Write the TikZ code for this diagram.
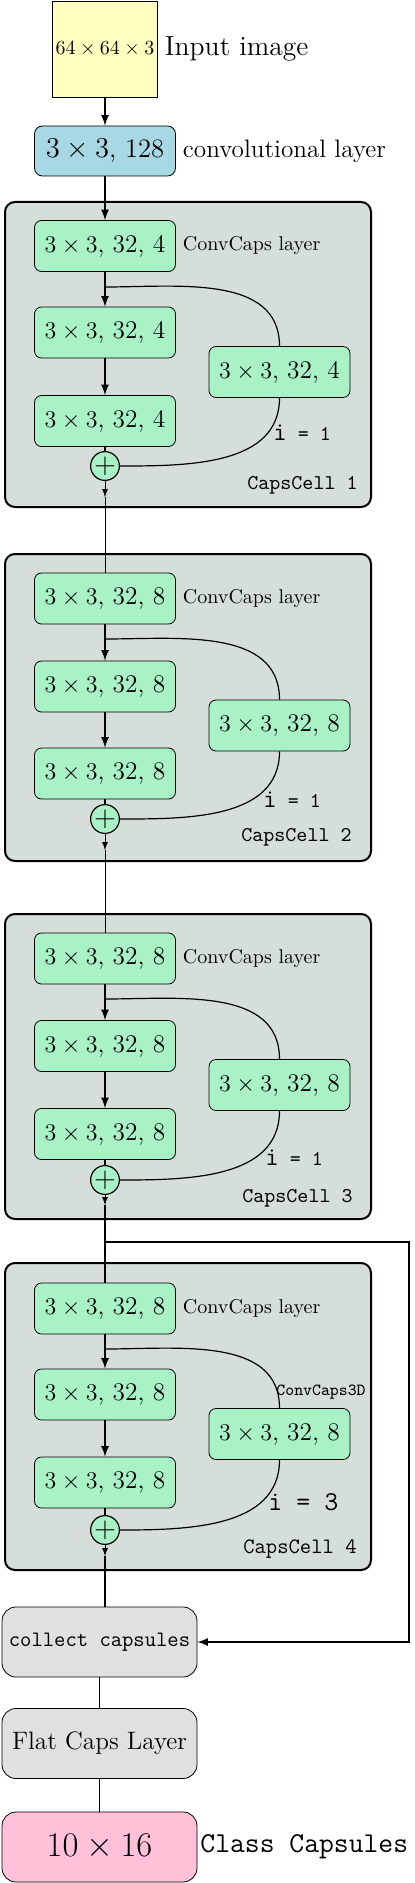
\documentclass[tikz,border=0pt]{standalone}
\usepackage{fontspec}
\usetikzlibrary{positioning,arrows}
\definecolor{jaune}{RGB}{255,255,192}
\definecolor{bleu}{RGB}{168,216,228}
\definecolor{vert}{RGB}{168,242,198}
\definecolor{gris}{RGB}{214,222,218}
\definecolor{grisclair}{RGB}{224,224,224}
\definecolor{rose}{RGB}{255,192,216}
\begin{document}
\begin{tikzpicture}[x=0.5pt,y=-0.5pt,>=latex]
	\tikzstyle{lien}=[-,thick]
	\tikzstyle{boucle}=[-,semithick]
	\tikzset{couche/.style={draw,rounded corners=3.5pt,fill=vert,minimum width=70.5pt,minimum height=25.5pt,inner sep=0,font=\fontsize{12.7}{15}\selectfont},
	cellule/.style={draw,line width=1pt,rounded corners=5pt,fill=gris,minimum width=183pt},
	somme/.style={draw,circle,fill=vert,minimum size=13pt,inner sep=0,semithick,font=\Large},
	fin/.style={draw,rounded corners=7pt,minimum width=97.5pt,minimum height=35pt,inner sep=0},
	texte/.style={inner sep=0,font=\fontsize{10.5}{12}\ttfamily}}
	\useasboundingbox (0,0) rectangle (415,1883);
	\node[draw,fill=jaune,minimum width=52.5pt,minimum height=48pt,inner sep=0] (inp) at (105,49) {$64\times64\times3$};
	\node[right=0pt of inp,font=\fontsize{13.8}{16}\selectfont] {Input image};
	\node[draw,rounded corners=4pt,fill=bleu,minimum width=70.5pt,minimum height=25pt,font=\fontsize{13.3}{16}\selectfont] (conv) at (105,151) {$3\times3$, 128};
	\node[right=0pt of conv,font=\fontsize{12.6}{15}\selectfont] {convolutional layer};
	% CapsCell 1
	\node[cellule,minimum height=152.5pt] (cell1) at (188,354.5) {};
	\node[couche] (a1) at (105,246) {$3\times3$, 32, 4};
	\node[right=0pt of a1] {ConvCaps layer};
	\node[couche] (a2) at (105,332.5) {$3\times3$, 32, 4};
	\node[couche] (a3) at (105,421) {$3\times3$, 32, 4};
	\node[couche] (ar) at (279.5,372) {$3\times3$, 32, 4};
	\node[somme] (ap) at (105,466) {$+$};
	\coordinate (ab) at (105,287);
	\coordinate (ao) at (105,497);
	\node[texte,anchor=west] at (273,433) {{\fontsize{13}{15}\selectfont i} = 1};
	\node[texte,anchor=east] at (358,485) {CapsCell 1};
	% CapsCell 2
	\node[cellule,minimum height=153.5pt] (cell2) at (188,707.5) {};
	\node[couche] (b1) at (105,598.5) {$3\times3$, 32, 8};
	\node[right=0pt of b1] {ConvCaps layer};
	\node[couche] (b2) at (105,686.5) {$3\times3$, 32, 8};
	\node[couche] (b3) at (105,773.5) {$3\times3$, 32, 8};
	\node[couche] (br) at (279.5,725.5) {$3\times3$, 32, 8};
	\node[somme] (bp) at (105,819) {$+$};
	\coordinate (bb) at (105,639);
	\coordinate (bo) at (105,850);
	\node[texte,anchor=west] at (263,800) {{\fontsize{13}{15}\selectfont i} = 1};
	\node[texte,anchor=east] at (352,837) {CapsCell 2};
	% CapsCell 3
	\node[cellule,minimum height=152.5pt] (cell3) at (188,1066.5) {};
	\node[couche] (c1) at (105,958.5) {$3\times3$, 32, 8};
	\node[right=0pt of c1] {ConvCaps layer};
	\node[couche] (c2) at (105,1046) {$3\times3$, 32, 8};
	\node[couche] (c3) at (105,1134) {$3\times3$, 32, 8};
	\node[couche] (cr) at (279.5,1085) {$3\times3$, 32, 8};
	\node[somme] (cp) at (105,1180) {$+$};
	\coordinate (cb) at (105,999);
	\coordinate (co) at (105,1205);
	\node[texte,anchor=west] at (265,1158) {{\fontsize{13}{15}\selectfont i} = 1};
	\node[texte,anchor=east] at (353,1198) {CapsCell 3};
	% CapsCell 4
	\node[cellule,minimum height=153.5pt] (cell4) at (188,1416.5) {};
	\node[couche] (d1) at (105,1308.5) {$3\times3$, 32, 8};
	\node[right=0pt of d1] {ConvCaps layer};
	\node[couche] (d2) at (105,1394.5) {$3\times3$, 32, 8};
	\node[couche] (d3) at (105,1482.5) {$3\times3$, 32, 8};
	\node[couche] (dr) at (279.5,1434) {$3\times3$, 32, 8};
	\node[somme] (dp) at (105,1530) {$+$};
	\coordinate (db) at (105,1349);
	\coordinate (do) at (105,1556);
	\node[texte,anchor=west,font=\fontsize{8.5}{10}\ttfamily] at (276,1392) {ConvCaps3D};
	\node[texte,anchor=west,font=\fontsize{13.6}{16}\ttfamily] at (268,1502) {i = 3};
	\node[texte,anchor=east,font=\fontsize{11}{13}\ttfamily] at (357,1549) {CapsCell 4};
	% sortie
	\node[fin,fill=grisclair,font=\fontsize{11}{13}\ttfamily] (col) at (99.5,1642) {collect capsules};
	\node[fin,fill=grisclair,font=\fontsize{12.6}{15}\selectfont] (flat) at (99.5,1743.5) {Flat Caps Layer};
	\node[fin,fill=rose,font=\LARGE] (cls) at (99.5,1847) {$10\times16$};
	\node[right=-2pt of cls,font=\Large\ttfamily] {Class Capsules};
	\coordinate (f1) at (105,1242);
	\coordinate (f2) at (409,1242);
	\draw[lien,->] (inp) -- (conv);
	\draw[lien,->] (conv) -- (a1);
	\draw[lien,->] (a1) -- (a2);
	\draw[lien,->] (a2) -- (a3);
	\draw[lien] (a3) -- (ap);
	\draw[boucle] (ab) to[out=0,in=90] (ar.north);
	\draw[boucle] (ar.south) to[out=-90,in=0] (ap.east);
	\draw[->] (ap) -- (ao);
	\draw (ao) -- (b1);
	\draw[lien,->] (b1) -- (b2);
	\draw[lien,->] (b2) -- (b3);
	\draw[lien] (b3) -- (bp);
	\draw[boucle] (bb) to[out=0,in=90] (br.north);
	\draw[boucle] (br.south) to[out=-90,in=0] (bp.east);
	\draw[->] (bp) -- (bo);
	\draw (bo) -- (c1);
	\draw[lien,->] (c1) -- (c2);
	\draw[lien,->] (c2) -- (c3);
	\draw[lien] (c3) -- (cp);
	\draw[boucle] (cb) to[out=0,in=90] (cr.north);
	\draw[boucle] (cr.south) to[out=-90,in=0] (cp.east);
	\draw[->] (cp) -- (co);
	\draw[lien] (co) -- (d1);
	\draw[lien,->] (d1) -- (d2);
	\draw[lien,->] (d2) -- (d3);
	\draw[lien] (d3) -- (dp);
	\draw[boucle] (db) to[out=0,in=90] (dr.north);
	\draw[boucle] (dr.south) to[out=-90,in=0] (dp.east);
	\draw[->] (dp) -- (do);
	\draw[lien] (do) -- (do |- col.north);
	\draw[lien,->] (f1) -- (f2) |- (col.east);
	\draw[lien] (col) -- (flat);
	\draw[semithick] (flat) -- (cls);
\end{tikzpicture}
\end{document}
